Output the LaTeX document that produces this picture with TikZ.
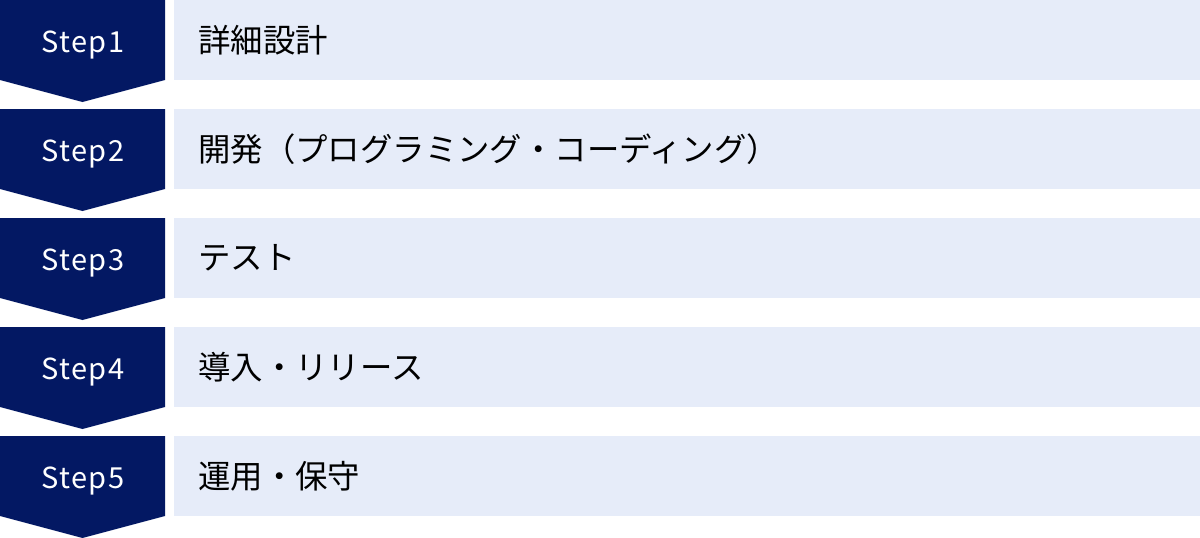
\documentclass[tikz,border=0pt]{standalone}
\usepackage{fontspec}
\setmainfont{Noto Sans CJK JP}
\newfontfamily\steplfont[LetterSpace=5]{Noto Sans CJK JP}
\definecolor{navy}{RGB}{3,24,99}
\definecolor{pale}{RGB}{230,236,249}
\tikzset{
  chev/.style={fill=navy, draw=none},
  steplabel/.style={text=white, font=\steplfont\fontsize{29}{32}\selectfont, inner sep=0pt, anchor=base},
  bar/.style={fill=pale, draw=none},
  bartext/.style={text=black, font=\fontsize{32.4}{36}\selectfont, inner sep=0pt, anchor=west}
}
\begin{document}
\begin{tikzpicture}[x=1pt,y=1pt]
\useasboundingbox (0,0) rectangle (1200,-538);
\foreach \i/\t in {1/詳細設計,2/開発（プログラミング・コーディング）,3/テスト,4/導入・リリース,5/運用・保守}{
  \pgfmathsetmacro{\top}{-(\i-1)*109}
  \fill[chev] (0,\top) -- (165,\top) -- (165,\top-80) -- (82.5,\top-102) -- (0,\top-80) -- cycle;
  \node[steplabel] (s\i) at (83,\top-52) {Step\i};
  \fill[bar] (174,\top) rectangle (1200,\top-80);
  \node[bartext] (t\i) at (198,\top-40) {\t};
}
\end{tikzpicture}
\end{document}
